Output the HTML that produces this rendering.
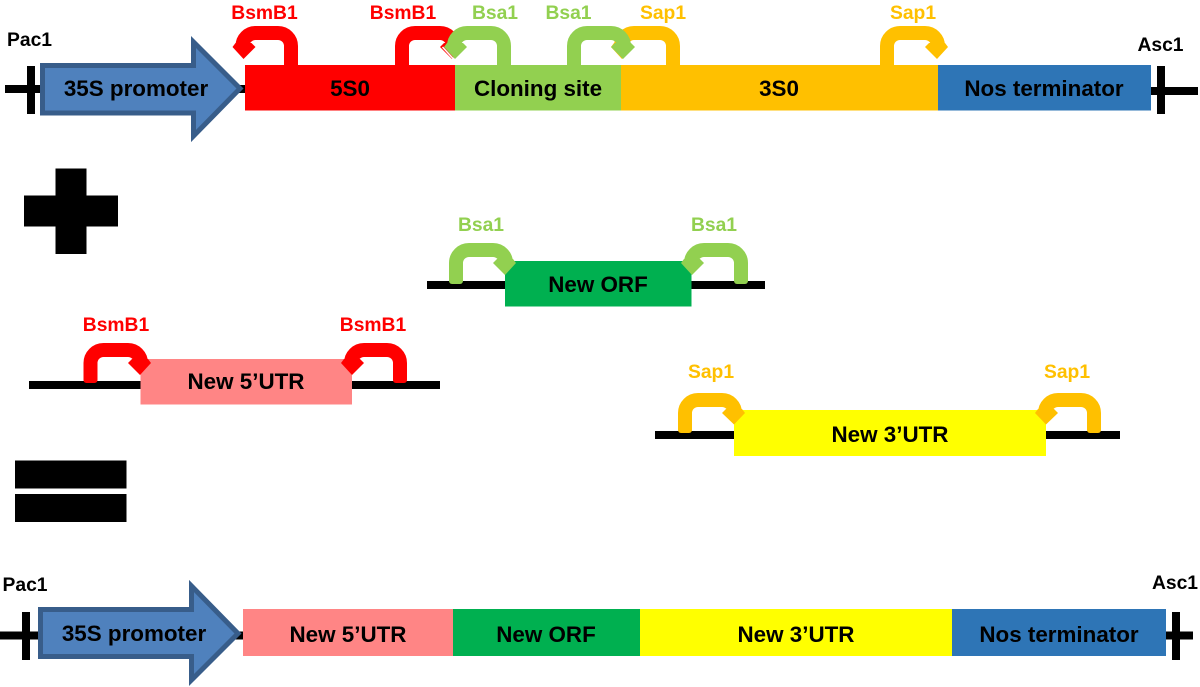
<!DOCTYPE html>
<html><head><meta charset="utf-8"><style>
html,body{margin:0;padding:0;background:#fff;width:1200px;height:687px;overflow:hidden}
svg{display:block}
text{font-family:"Liberation Sans",sans-serif;font-weight:700;text-anchor:middle}
.m{font-size:22.4px;fill:#000}
.l{font-size:19.3px}
.k{font-size:19.3px;fill:#000}
.r{fill:#f00}.g{fill:#92d050}.o{fill:#ffc000}
path.a{fill:none;stroke-width:14}
</style></head><body>
<svg width="1200" height="687" viewBox="0 0 1200 687" xmlns="http://www.w3.org/2000/svg">
<!-- top row -->
<rect x="5" y="85" width="245" height="8" fill="#000"/>
<rect x="27" y="66" width="8" height="48" fill="#000"/>
<rect x="1151" y="87" width="47" height="8" fill="#000"/>
<rect x="1157" y="66" width="8" height="48" fill="#000"/>
<rect x="245" y="65" width="210" height="45.500" fill="#f00"/>
<rect x="455" y="65" width="166" height="45.500" fill="#92d050"/>
<rect x="621" y="65" width="317" height="45.500" fill="#ffc000"/>
<rect x="938" y="65" width="213" height="45.500" fill="#2e75b6"/>
<polygon points="42.500,65.500 193.500,65.500 193.500,42 240,88.500 193.500,136 193.500,113 42.500,113" fill="#4f81bd" stroke="#385d8a" stroke-width="5"/>
<path class="a" stroke="#f00" d="M291 65V46A13 13 0 0 0 278 33H255.500A13 13 0 0 0 242.500 46"/>
<polygon points="255.500,47 251.500,43 235.500,43 232.500,47 243.500,59" fill="#f00"/>
<path class="a" stroke="#f00" d="M402 65V46A13 13 0 0 1 415 33H440A13 13 0 0 1 453 46"/>
<polygon points="440,47 444,43 460,43 463,47 452,59" fill="#f00"/>
<path class="a" stroke="#ffc000" d="M673 65V46A13 13 0 0 0 660 33H634A13 13 0 0 0 621 46"/>
<polygon points="634,47 630,43 614,43 611,47 622,59" fill="#ffc000"/>
<path class="a" stroke="#ffc000" d="M887 65V46A13 13 0 0 1 900 33H925A13 13 0 0 1 938 46"/>
<polygon points="925,47 929,43 945,43 948,47 937,59" fill="#ffc000"/>
<line x1="442.500" y1="47" x2="453.500" y2="59" stroke="#fff" stroke-width="1.500"/>
<path class="a" stroke="#92d050" d="M504 65V46A13 13 0 0 0 491 33H467A13 13 0 0 0 454 46"/>
<polygon points="467,47 463,43 447,43 444,47 455,59" fill="#92d050"/>
<path class="a" stroke="#92d050" d="M574 65V46A13 13 0 0 1 587 33H611A13 13 0 0 1 624 46"/>
<polygon points="611,47 615,43 631,43 635,47 623,59" fill="#92d050"/>
<text class="l r" x="264.500" y="19">BsmB1</text>
<text class="l r" x="403" y="19">BsmB1</text>
<text class="l g" x="495" y="19">Bsa1</text>
<text class="l g" x="568.500" y="19">Bsa1</text>
<text class="l o" x="663" y="19">Sap1</text>
<text class="l o" x="913" y="19">Sap1</text>
<text class="k" x="29.500" y="46">Pac1</text>
<text class="k" x="1160.500" y="51">Asc1</text>
<text class="m" x="136" y="96">35S promoter</text>
<text class="m" x="350" y="96">5S0</text>
<text class="m" x="538" y="96">Cloning site</text>
<text class="m" x="779" y="96">3S0</text>
<text class="m" x="1044" y="96">Nos terminator</text>
<!-- plus and equals -->
<path d="M55.500 168.500H86.500V195.500H118V226.500H86.500V254H55.500V226.500H24V195.500H55.500Z" fill="#000"/>
<rect x="15" y="460.500" width="111.500" height="28" fill="#000"/>
<rect x="15" y="494" width="111.500" height="28" fill="#000"/>
<!-- new ORF -->
<rect x="427" y="281" width="338" height="8" fill="#000"/>
<rect x="505" y="261" width="186.500" height="45.500" fill="#00b050"/>
<path class="a" stroke="#92d050" d="M456 278V263A13 13 0 0 1 469 250H493A13 13 0 0 1 506 263"/>
<rect x="449" y="272" width="14" height="12" rx="3" fill="#92d050"/>
<polygon points="493,263 497,259 513,259 516,263 505,275" fill="#92d050"/>
<path class="a" stroke="#92d050" d="M741 278V263A13 13 0 0 0 728 250H704A13 13 0 0 0 691 263"/>
<rect x="734" y="272" width="14" height="12" rx="3" fill="#92d050"/>
<polygon points="704,263 700,259 684,259 681,263 692,275" fill="#92d050"/>
<text class="l g" x="481" y="231">Bsa1</text>
<text class="l g" x="714" y="231">Bsa1</text>
<text class="m" x="598" y="292">New ORF</text>
<!-- new 5'UTR -->
<rect x="29" y="381" width="411" height="8" fill="#000"/>
<rect x="140.500" y="359" width="211.500" height="45.500" fill="#ff8585"/>
<path class="a" stroke="#f00" d="M90.500 377V363A13 13 0 0 1 103.500 350H128A13 13 0 0 1 141 363"/>
<rect x="83.500" y="371" width="14" height="12" rx="3" fill="#f00"/>
<polygon points="128,363 132,359 148,359 151,363 140,375" fill="#f00"/>
<path class="a" stroke="#f00" d="M400 377V363A13 13 0 0 0 387 350H364A13 13 0 0 0 351 363"/>
<rect x="393" y="371" width="14" height="12" rx="3" fill="#f00"/>
<polygon points="364,363 360,359 344,359 341,363 352,375" fill="#f00"/>
<text class="l r" x="116" y="331">BsmB1</text>
<text class="l r" x="373" y="331">BsmB1</text>
<text class="m" x="246" y="389">New 5’UTR</text>
<!-- new 3'UTR -->
<rect x="655" y="431" width="465" height="8" fill="#000"/>
<rect x="734" y="410" width="312" height="46" fill="#ff0"/>
<path class="a" stroke="#ffc000" d="M685 427V413A13 13 0 0 1 698 400H722A13 13 0 0 1 735 413"/>
<rect x="678" y="421" width="14" height="12" rx="3" fill="#ffc000"/>
<polygon points="722,413 726,409 742,409 745,413 734,424.500" fill="#ffc000"/>
<path class="a" stroke="#ffc000" d="M1094 427V413A13 13 0 0 0 1081 400H1058A13 13 0 0 0 1045 413"/>
<rect x="1087" y="421" width="14" height="12" rx="3" fill="#ffc000"/>
<polygon points="1058,413 1054,409 1038,409 1035,413 1046,424.500" fill="#ffc000"/>
<text class="l o" x="711" y="378">Sap1</text>
<text class="l o" x="1067" y="378">Sap1</text>
<text class="m" x="890" y="442">New 3’UTR</text>
<!-- bottom row -->
<rect x="0" y="631.500" width="248" height="8" fill="#000"/>
<rect x="22" y="612" width="8" height="48" fill="#000"/>
<rect x="1166" y="631.500" width="27" height="8" fill="#000"/>
<rect x="1172" y="612" width="8" height="48" fill="#000"/>
<rect x="243" y="609" width="210" height="47" fill="#ff8585"/>
<rect x="453" y="609" width="187" height="47" fill="#00b050"/>
<rect x="640" y="609" width="312" height="47" fill="#ff0"/>
<rect x="952" y="609" width="214" height="47" fill="#2e75b6"/>
<polygon points="40.500,609.500 191.500,609.500 191.500,586 238,633.500 191.500,680 191.500,656.500 40.500,656.500" fill="#4f81bd" stroke="#385d8a" stroke-width="5"/>
<text class="k" x="25" y="591">Pac1</text>
<text class="k" x="1175" y="589">Asc1</text>
<text class="m" x="134" y="641">35S promoter</text>
<text class="m" x="348" y="642">New 5’UTR</text>
<text class="m" x="546" y="642">New ORF</text>
<text class="m" x="796" y="642">New 3’UTR</text>
<text class="m" x="1059" y="642">Nos terminator</text>
</svg>
</body></html>
